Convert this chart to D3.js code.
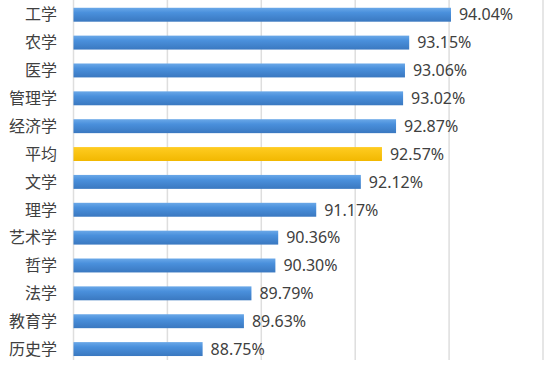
<!DOCTYPE html>
<html><head><meta charset="utf-8">
<script src="https://cdn.jsdelivr.net/npm/d3@7"></script>
<style>body{margin:0;background:#fff;}svg{display:block;}</style>
</head><body>
<svg id="c" width="550" height="367"></svg>
<script>
const categories = ["工学","农学","医学","管理学","经济学","平均","文学","理学","艺术学","哲学","法学","教育学","历史学"];
const values = [94.04,93.15,93.06,93.02,92.87,92.57,92.12,91.17,90.36,90.30,89.79,89.63,88.75];
const highlight = ["平均"];
const xTicks = [86,88,90,92,94,96];

const svg = d3.select("#c");
const x = d3.scaleLinear().domain([86,96]).range([73.5,543]);
const y = d3.scaleBand().domain(categories).range([0.8,363]).paddingInner(0.5).paddingOuter(0.25);

const defs = svg.append("defs");
const gb = defs.append("linearGradient").attr("id","gb").attr("x1",0).attr("y1",0).attr("x2",0).attr("y2",1);
gb.append("stop").attr("offset","0%").attr("stop-color","#6aa8e8");
gb.append("stop").attr("offset","35%").attr("stop-color","#4a90dc");
gb.append("stop").attr("offset","100%").attr("stop-color","#3a78c0");
const gy = defs.append("linearGradient").attr("id","gy").attr("x1",0).attr("y1",0).attr("x2",0).attr("y2",1);
gy.append("stop").attr("offset","0%").attr("stop-color","#ffcc22");
gy.append("stop").attr("offset","100%").attr("stop-color","#f2b800");

svg.append("g").selectAll("line").data(xTicks).join("line")
  .attr("x1",d=>x(d)).attr("x2",d=>x(d)).attr("y1",0).attr("y2",360)
  .attr("stroke","#dedede").attr("stroke-width",1.5);

const rows = categories.map((c,i)=>({c, v: values[i]}));
svg.append("g").selectAll("rect").data(rows).join("rect")
  .attr("x",x(86)).attr("y",d=>y(d.c)).attr("height",y.bandwidth())
  .attr("width",d=>x(d.v)-x(86))
  .attr("fill",d=>highlight.includes(d.c)?"url(#gy)":"url(#gb)");

svg.append("g").selectAll("text").data(rows).join("text")
  .attr("x",57).attr("y",d=>y(d.c)+y.bandwidth()/2).attr("dy","0.36em")
  .attr("text-anchor","end").attr("fill","#404040")
  .style("font-family","'Noto Sans CJK SC', sans-serif").style("font-size","16px")
  .text(d=>d.c);

svg.append("g").selectAll("text").data(rows).join("text")
  .attr("x",d=>x(d.v)+8).attr("y",d=>y(d.c)+y.bandwidth()/2).attr("dy","0.36em")
  .attr("fill","#404040")
  .style("font-family","'Noto Sans', sans-serif").style("font-size","16px")
  .text(d=>d.v.toFixed(2)+"%");
</script>
</body></html>
